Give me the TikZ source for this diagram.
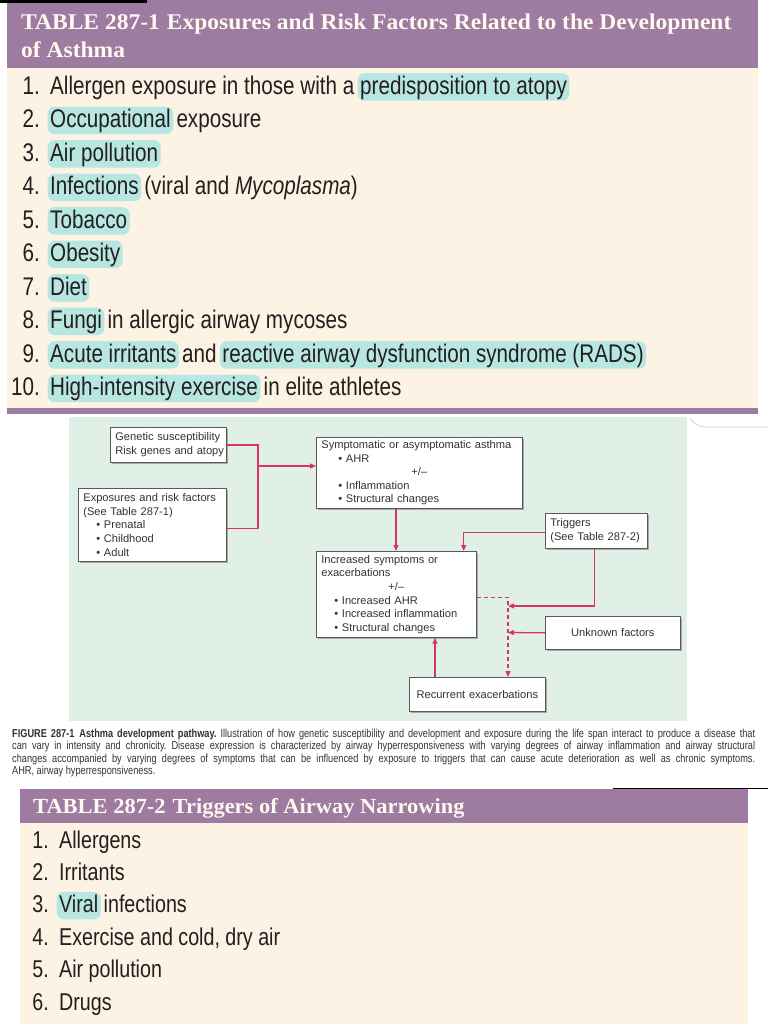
\documentclass[tikz,border=0pt]{standalone}
\usepackage{fontspec}
\setmainfont{Liberation Sans}
\newfontfamily\itemfont[FakeStretch=0.81]{Liberation Sans}
\newfontfamily\headfont[FakeStretch=1.045]{Liberation Serif}
\newfontfamily\capfont[FakeStretch=0.8]{Liberation Sans}
\usetikzlibrary{arrows.meta,shadows}
\definecolor{hdr}{HTML}{9E7BA0}
\definecolor{cream}{HTML}{FDF3E4}
\definecolor{hlc}{HTML}{B8E6E0}
\definecolor{mint}{HTML}{E1F0E7}
\definecolor{arr}{HTML}{D8365F}
\definecolor{txt}{HTML}{231F20}
\definecolor{dtxt}{HTML}{333333}
\definecolor{hdtxt}{HTML}{FFF9F0}
\newcommand\hl[1]{\hspace*{-2.5pt}\tikz[baseline=(hlbox.base)]\node[fill=hlc,rounded corners=7pt,inner xsep=2.5pt,inner ysep=0pt,outer sep=0pt,text height=21pt,text depth=6.5pt,text=txt] (hlbox) {#1};\hspace*{-2.5pt}}
\tikzset{
  itm/.style={anchor=base west, inner sep=0pt, text=txt, font=\itemfont\fontsize{25.5}{30}\selectfont},
  num/.style={anchor=base east, inner sep=0pt, text=txt, font=\itemfont\fontsize{25.5}{30}\selectfont},
  itmb/.style={anchor=base west, inner sep=0pt, text=txt, font=\itemfont\fontsize{24.3}{30}\selectfont},
  numb/.style={anchor=base east, inner sep=0pt, text=txt, font=\itemfont\fontsize{24.3}{30}\selectfont},
  hd/.style={anchor=base west, inner sep=0pt, text=hdtxt, font=\headfont\bfseries\fontsize{22.5}{28}\selectfont},
  hdb/.style={anchor=base west, inner sep=0pt, text=hdtxt, font=\headfont\bfseries\fontsize{21.5}{28}\selectfont},
  dbox/.style={draw=black!65, line width=0.7pt, fill=white, anchor=north west,
    drop shadow={shadow xshift=1.3pt, shadow yshift=-1.3pt, fill=black!40, opacity=0.8},
    inner xsep=5pt, inner ysep=0pt, align=left, text=dtxt,
    font=\fontsize{11.1}{13.6}\selectfont},
  conn/.style={draw=arr, line width=1.3pt},
  arrow/.style={-{Triangle[length=6pt,width=5pt]}},
  dsh/.style={dash pattern=on 4pt off 3pt},
  captxt/.style={anchor=base west, inner sep=0pt, text=dtxt, font=\capfont\fontsize{11.5}{12}\selectfont\frenchspacing}
}
\begin{document}
\begin{tikzpicture}[x=1pt,y=-1pt]
\useasboundingbox (0,0) rectangle (768,1024);
\fill[white] (0,0) rectangle (768,1024);
% ---------- Table 287-1 ----------
\fill[hdr] (7,0) rectangle (758,68);
\fill[black] (0,0) rectangle (147,3);
\fill[cream] (7,68) rectangle (758,408);
\fill[hdr] (7,408) rectangle (758,414);
\node[hd] (h1) at (21,29.3) {TABLE 287-1\hspace{7pt}Exposures and Risk Factors Related to the Development};
\node[hd] (h2) at (21,57.3) {of Asthma};
\node[num] (n1) at (40,94.2) {1.};
\node[itm] (t1) at (50,94.2) {Allergen exposure in those with a \hl{predisposition to atopy}};
\node[num] (n2) at (40,127.7) {2.};
\node[itm] (t2) at (50,127.7) {\hl{Occupational} exposure};
\node[num] (n3) at (40,161.2) {3.};
\node[itm] (t3) at (50,161.2) {\hl{Air pollution}};
\node[num] (n4) at (40,194.7) {4.};
\node[itm] (t4) at (50,194.7) {\hl{Infections} (viral and \textit{Mycoplasma})};
\node[num] (n5) at (40,228.2) {5.};
\node[itm] (t5) at (50,228.2) {\hl{Tobacco}};
\node[num] (n6) at (40,261.7) {6.};
\node[itm] (t6) at (50,261.7) {\hl{Obesity}};
\node[num] (n7) at (40,295.2) {7.};
\node[itm] (t7) at (50,295.2) {\hl{Diet}};
\node[num] (n8) at (40,328.7) {8.};
\node[itm] (t8) at (50,328.7) {\hl{Fungi} in allergic airway mycoses};
\node[num] (n9) at (40,362.2) {9.};
\node[itm] (t9) at (50,362.2) {\hl{Acute irritants} and \hl{reactive airway dysfunction syndrome (RADS)}};
\node[num] (n10) at (40,395.7) {10.};
\node[itm] (t10) at (50,395.7) {\hl{High-intensity exercise} in elite athletes};
% ---------- Figure ----------
\fill[mint] (69,417) rectangle (687,721);
\draw[black!18, line width=0.8pt] (690,418) .. controls (695,426) and (700,427) .. (710,427) -- (768,427);
\node[dbox, minimum width=116pt, text width=106pt, minimum height=35pt] (gen) at (110,427)
  {\mbox{Genetic susceptibility}\\\mbox{Risk genes and atopy}};
\node[dbox, minimum width=148pt, text width=138pt, minimum height=73pt] (exp) at (78,488)
  {Exposures and risk factors\\(See Table 287-1)\\\hspace*{13pt}\textbullet\ Prenatal\\\hspace*{13pt}\textbullet\ Childhood\\\hspace*{13pt}\textbullet\ Adult};
\node[dbox, minimum width=206pt, text width=196pt, minimum height=71pt] (sym) at (316,437)
  {Symptomatic or asymptomatic asthma\\\hspace*{17pt}\textbullet\ AHR\\\makebox[196pt]{+/–}\\\hspace*{17pt}\textbullet\ Inflammation\\\hspace*{17pt}\textbullet\ Structural changes};
\node[dbox, minimum width=102pt, text width=92pt, minimum height=35pt] (trig) at (545,513)
  {Triggers\\(See Table 287-2)};
\node[dbox, minimum width=160pt, text width=150pt, minimum height=86pt] (inc) at (316,551)
  {Increased symptoms or\\exacerbations\\\makebox[150pt]{+/–}\\\hspace*{13pt}\textbullet\ Increased AHR\\\hspace*{13pt}\textbullet\ Increased inflammation\\\hspace*{13pt}\textbullet\ Structural changes};
\node[dbox, minimum width=135pt, text width=125pt, minimum height=33pt, align=center] (unk) at (545,616)
  {Unknown factors};
\node[dbox, minimum width=136pt, text width=126pt, minimum height=34pt, align=center] (rec) at (409,677)
  {Recurrent exacerbations};
\coordinate (j) at (258,466);
\coordinate (d1) at (508,606);
\coordinate (d2) at (508,632.5);
\draw[conn] (gen.east) -| (j);
\draw[conn] ([yshift=-3.5pt]exp.east) -| (j);
\draw[conn,arrow] (j) -- (j -| sym.west);
\draw[conn,arrow] ([xshift=80pt]sym.south west) -- ([xshift=80pt]inc.north west);
\draw[conn,arrow] ([yshift=-1.5pt]trig.west) -| ([xshift=-13pt]inc.north east);
\draw[conn,arrow] ([xshift=-2pt]trig.south) |- (d1);
\draw[conn,arrow] (unk.west) -- (d2);
\draw[conn,dsh,arrow] ([yshift=-3pt]inc.east) -| (rec.north -| d1);
\draw[conn,arrow] ([xshift=26pt]rec.north west) -- ([xshift=26pt]rec.north west |- inc.south);
% ---------- Caption ----------
\node[captxt] (c1) at (12,737) {\makebox[743pt][s]{\textbf{FIGURE 287-1\hspace{5pt}Asthma development pathway.} Illustration of how genetic susceptibility and development and exposure during the life span interact to produce a disease that}};
\node[captxt] (c2) at (12,749.5) {\makebox[743pt][s]{can vary in intensity and chronicity. Disease expression is characterized by airway hyperresponsiveness with varying degrees of airway inflammation and airway structural}};
\node[captxt] (c3) at (12,762) {\makebox[743pt][s]{changes accompanied by varying degrees of symptoms that can be influenced by exposure to triggers that can cause acute deterioration as well as chronic symptoms.}};
\node[captxt] (c4) at (12,774.5) {AHR, airway hyperresponsiveness.};
% ---------- Table 287-2 ----------
\fill[black] (613,787.5) rectangle (768,789);
\fill[hdr] (20,789) rectangle (748,823);
\fill[cream] (20,823) rectangle (748,1024);
\node[hdb] (g1) at (33,813) {TABLE 287-2\hspace{7pt}Triggers of Airway Narrowing};
\node[numb] (m1) at (49,848) {1.};
\node[itmb] (s1) at (59,848) {Allergens};
\node[numb] (m2) at (49,880.4) {2.};
\node[itmb] (s2) at (59,880.4) {Irritants};
\node[numb] (m3) at (49,912.8) {3.};
\node[itmb] (s3) at (59,912.8) {\hl{Viral} infections};
\node[numb] (m4) at (49,945.2) {4.};
\node[itmb] (s4) at (59,945.2) {Exercise and cold, dry air};
\node[numb] (m5) at (49,977.6) {5.};
\node[itmb] (s5) at (59,977.6) {Air pollution};
\node[numb] (m6) at (49,1010) {6.};
\node[itmb] (s6) at (59,1010) {Drugs};
\end{tikzpicture}
\end{document}
